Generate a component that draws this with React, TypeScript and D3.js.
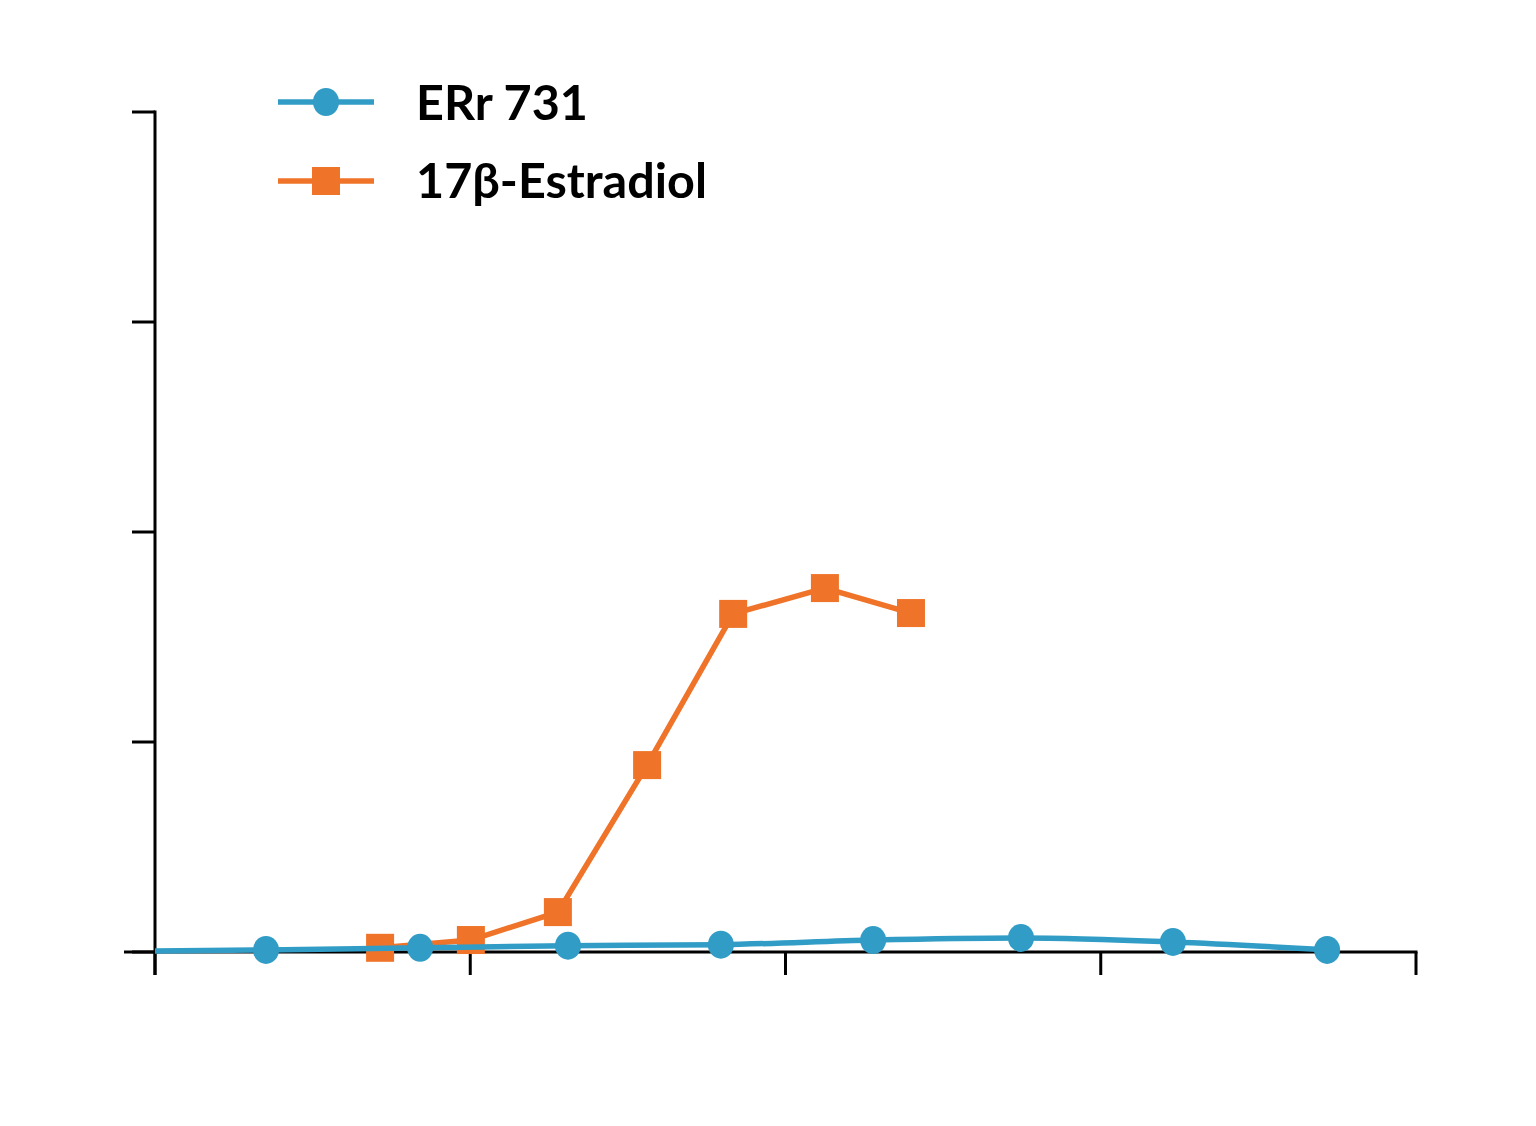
import React from "react";
import * as d3 from "d3";

const errX = [0, 0.352, 0.841, 1.31, 1.795, 2.278, 2.747, 3.229, 3.718];
const errY = [0.005, 0.01, 0.02, 0.03, 0.035, 0.057, 0.067, 0.048, 0.01];
const errMarker = [false, true, true, true, true, true, true, true, true];
const estX = [0.714, 1.002, 1.278, 1.561, 1.834, 2.125, 2.398];
const estY = [0.02, 0.057, 0.19, 0.89, 1.61, 1.733, 1.614];
const xTicks = [0, 1, 2, 3, 4];
const yTicks = [0, 1, 2, 3, 4];
const legendLabels = ["ERr 731", "17β-Estradiol"];

const BLUE = "#319cc5";
const ORANGE = "#ef7329";

export default function App() {
  const W = 1536, H = 1126;
  const x = d3.scaleLinear().domain([0, 4]).range([155, 1416]);
  const y = d3.scaleLinear().domain([0, 4]).range([952, 112]);
  const line = d3.line<[number, number]>().x(d => x(d[0])).y(d => y(d[1]));
  const errPts = errX.map((v, i) => [v, errY[i]] as [number, number]);
  const estPts = estX.map((v, i) => [v, estY[i]] as [number, number]);
  return (
    <svg width={W} height={H} style={{ display: "block", margin: -8 }}>
      <rect width={W} height={H} fill="#fff" />
      {/* axes */}
      <line x1={x(0)} x2={x(0)} y1={y(4) - 1.5} y2={975} stroke="#000" strokeWidth={3} />
      <line x1={124} x2={x(4) + 1.5} y1={y(0)} y2={y(0)} stroke="#000" strokeWidth={3} />
      {yTicks.map(t => (
        <line key={"y" + t} x1={132} x2={x(0)} y1={y(t)} y2={y(t)} stroke="#000" strokeWidth={3} />
      ))}
      {xTicks.map(t => (
        <line key={"x" + t} x1={x(t)} x2={x(t)} y1={y(0)} y2={975} stroke="#000" strokeWidth={3} />
      ))}
      {/* orange series */}
      <path d={line(estPts) || ""} fill="none" stroke={ORANGE} strokeWidth={5.5} />
      {estPts.map((p, i) => (
        <rect key={"e" + i} x={x(p[0]) - 14} y={y(p[1]) - 14} width={28} height={28} fill={ORANGE} />
      ))}
      {/* blue series */}
      <path d={(d3.line<[number, number]>().x(d => x(d[0])).y(d => y(d[1])).curve(d3.curveMonotoneX))(errPts) || ""} fill="none" stroke={BLUE} strokeWidth={5.5} />
      {errPts.map((p, i) => errMarker[i] ? (
        <ellipse key={"b" + i} cx={x(p[0])} cy={y(p[1])} rx={13} ry={14} fill={BLUE} />
      ) : null)}
      {/* legend */}
      <g fontFamily="Lato, 'Open Sans', sans-serif" fontWeight={700} fontSize={48.5}>
        <line x1={278} x2={374} y1={102} y2={102} stroke={BLUE} strokeWidth={5.5} />
        <ellipse cx={326} cy={102} rx={13} ry={14} fill={BLUE} />
        <text x={416} y={120} fill="#000">{legendLabels[0]}</text>
        <line x1={278} x2={374} y1={181} y2={181} stroke={ORANGE} strokeWidth={5.5} />
        <rect x={312} y={167} width={28} height={28} fill={ORANGE} />
        <text x={416} y={198} fill="#000">{legendLabels[1]}</text>
      </g>
    </svg>
  );
}
